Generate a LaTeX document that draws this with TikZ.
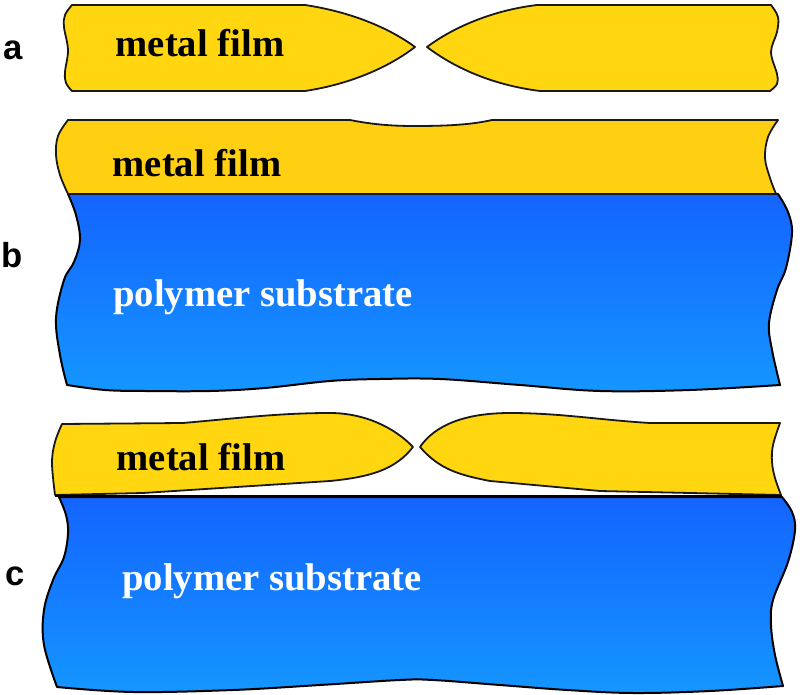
\documentclass[tikz,border=0pt]{standalone}
\usepackage{fontspec}
\setmainfont{Liberation Serif}
\setsansfont{Liberation Sans}
\definecolor{goldA}{HTML}{FFD60F}
\definecolor{goldB}{HTML}{FFD012}
\definecolor{blueT}{HTML}{1464FF}
\definecolor{blueB}{HTML}{1496FF}
\tikzset{
  sm/.style={smooth,tension=0.6},
  film/.style={draw=black!90,line width=1.35pt,line join=round,fill=goldA},
  filmb/.style={film,fill=goldB},
  subs/.style={draw=black,line width=1.5pt,line join=round,top color=blueT,bottom color=blueB},
  metal/.style={anchor=base,inner sep=0pt,font=\fontsize{29}{31}\selectfont\bfseries,text=black},
  poly/.style={anchor=base,inner sep=0pt,font=\fontsize{29}{31}\selectfont\bfseries,text=white},
  letter/.style={anchor=base,inner sep=0pt,font=\fontsize{26}{28}\selectfont\sffamily\bfseries,text=black}
}
\begin{document}
\begin{tikzpicture}[x=0.75pt,y=-0.75pt]
\useasboundingbox (0,0) rectangle (800,695);
% a
\path[film] plot[sm] coordinates {(72,5) (65,15) (64,27) (68,50) (65,72) (66,83) (72,91)}
  -- (305,91)
  .. controls (345,85) and (385,70) .. (415,47)
  .. controls (385,25) and (345,11) .. (305,5) -- cycle;
\path[film] (427,47) .. controls (455,26) and (495,10) .. (537,5)
  -- (771,5)
  -- plot[sm] coordinates {(771,5) (778,17) (777,32) (771,52) (777,74) (777,84) (770,91)}
  -- (540,91)
  .. controls (500,86) and (460,72) .. (427,47) -- cycle;
% b
\path[subs] plot[sm] coordinates {(68,194) (76,215) (80,240) (74,262) (64,280) (56,318) (60,355) (67,385)}
  -- plot[sm] coordinates {(67,385) (105,390) (145,391) (210,391) (265,388) (330,381) (380,379) (440,379) (520,385) (600,391) (690,390) (780,385)}
  -- plot[sm] coordinates {(780,385) (772,350) (769,323) (777,290) (786,268) (792,233) (788,212) (778,194)} -- cycle;
\path[filmb] (68,120) -- (350,120)
  .. controls (375,125) and (395,126) .. (415,126)
  .. controls (445,126) and (470,125) .. (492,120)
  -- (778,120)
  -- plot[sm] coordinates {(778,120) (768,137) (765,158) (770,178) (776,194)}
  -- (68,194)
  -- plot[sm] coordinates {(68,194) (60,175) (56,155) (58,136) (68,120)} -- cycle;
% c
\path[subs] plot[sm] coordinates {(59,497) (66,515) (68,533) (64,557) (53,580) (44,610) (44,645) (57,687)}
  -- plot[sm] coordinates {(57,687) (133,692) (233,690) (320,685) (400,680) (433,680) (500,685) (567,690) (633,693) (710,691) (783,686)}
  -- plot[sm] coordinates {(783,686) (775,655) (771,625) (773,600) (788,562) (795,530) (792,512) (782,497)} -- cycle;
\path[film] plot[sm] coordinates {(55,495) (52,463) (55,442) (62,424)}
  -- (183,423)
  .. controls (240,418) and (280,413) .. (330,413)
  .. controls (365,413) and (395,428) .. (413,447)
  .. controls (395,470) and (370,477) .. (330,481)
  -- (143,493) -- cycle;
\path[film] (420,447) .. controls (435,425) and (465,413) .. (510,413)
  .. controls (560,413) and (600,420) .. (650,423)
  -- (780,423)
  -- plot[sm] coordinates {(780,423) (773,445) (772,462) (775,478) (781,495)}
  -- (690,493) -- (600,491) -- (490,481)
  .. controls (460,475) and (440,470) .. (420,447) -- cycle;
\draw[line width=1.8pt] (55,496) -- (782,496);
% texts
\node[metal] (filmA) at (200,57) {metal film};
\node[metal] (filmB) at (197,177) {metal film};
\node[metal] (filmC) at (201,470) {metal film};
\node[poly] (polyB) at (263,307) {polymer substrate};
\node[poly] (polyC) at (272,590) {polymer substrate};
\node[letter] (la) at (13,60) {a};
\node[letter] (lb) at (12,268) {b};
\node[letter] (lc) at (15,585) {c};
\end{tikzpicture}
\end{document}
